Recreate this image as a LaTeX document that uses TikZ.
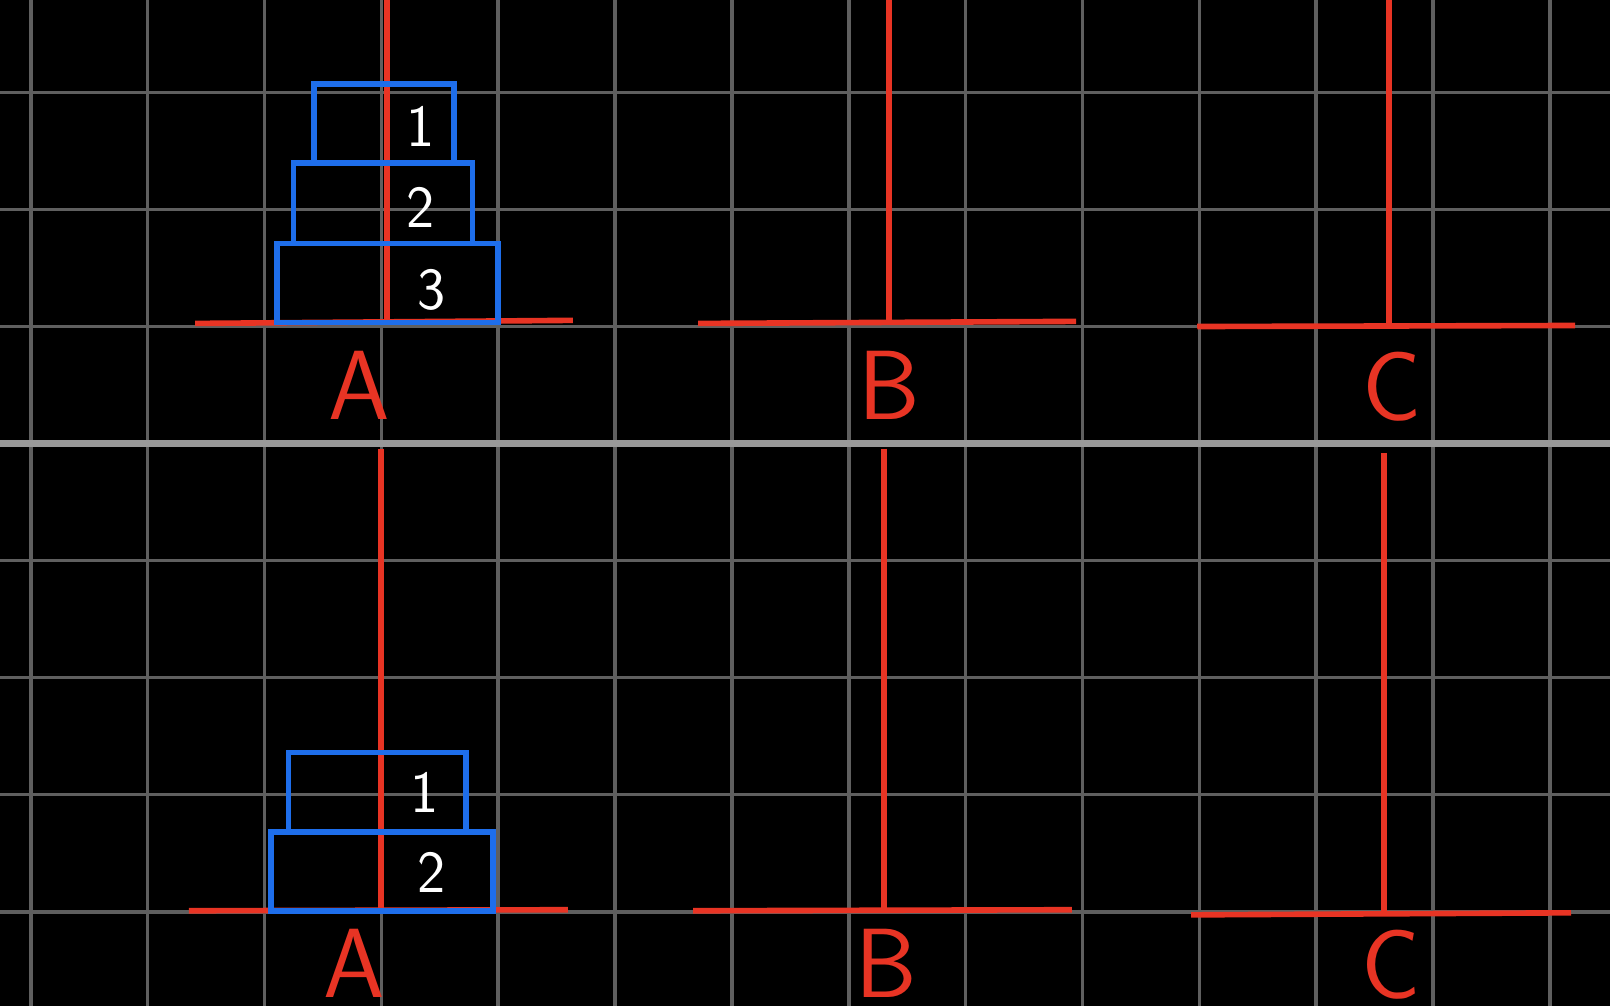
\documentclass[tikz,border=0pt]{standalone}
\usepackage{tikz}
\usetikzlibrary{positioning}
\definecolor{rodred}{RGB}{232, 52, 36}
\definecolor{diskblue}{RGB}{30, 110, 235}
\definecolor{gridgray}{RGB}{95, 95, 95}

\tikzset{
    rod/.style={rodred, line width=1.6pt},
    disk/.style={draw=diskblue, line width=1.6pt},
    disknum/.style={white, font=\sffamily\fontsize{17}{17}\selectfont},
    pegname/.style={rodred, font=\sffamily\fontsize{28}{28}\selectfont}
}

\begin{document}
\begin{tikzpicture}[x=0.010268cm, y=-0.010268cm]
    % Background and grid
    \fill[black] (0,0) rectangle (1568,980);
    \useasboundingbox (0,0) rectangle (1568,980);
    \foreach \gx in {30,143.8,...,1560}
        \draw[gridgray, line width=1pt] (\gx,0) -- (\gx,980);
    \foreach \gy in {90,204,318,546,660,774,888}
        \draw[gridgray, line width=1pt] (0,\gy) -- (1568,\gy);
    \draw[gray!80, line width=2pt] (0,432) -- (1568,432);

    % Top row: rods and bases
    \coordinate (topA) at (377,0);   \coordinate (footA) at (377,315);
    \coordinate (topB) at (866,0);   \coordinate (footB) at (866,314);
    \coordinate (topC) at (1353,0);  \coordinate (footC) at (1353,317);
    \draw[rod] (topA) -- (footA);
    \draw[rod] (topB) -- (footB);
    \draw[rod] (topC) -- (footC);
    \draw[rod] (190,315) -- (558,312);
    \draw[rod] (680,315) -- (1048,313);
    \draw[rod] (1166,318) -- (1534,317);

    % Top row: disks
    \draw[disk] (306,82) rectangle (442,159);
    \draw[disk] (286,159) rectangle (460,237);
    \draw[disk] (270,237) rectangle (485,314);
    \node[disknum] (n1) at (410,123) {1};
    \node[disknum] (n2) at (410,202) {2};
    \node[disknum] (n3) at (420,282) {3};

    % Top row: labels
    \node[pegname] (labA) at (350,375) {A};
    \node[pegname] (labB) at (866,375) {B};
    \node[pegname] (labC) at (1356,377) {C};

    % Bottom row: rods and bases
    \coordinate (topA2) at (371,437);  \coordinate (footA2) at (371,887);
    \coordinate (topB2) at (861,437);  \coordinate (footB2) at (861,886);
    \coordinate (topC2) at (1348,441); \coordinate (footC2) at (1348,889);
    \draw[rod] (topA2) -- (footA2);
    \draw[rod] (topB2) -- (footB2);
    \draw[rod] (topC2) -- (footC2);
    \draw[rod] (184,887) -- (553,886);
    \draw[rod] (675,887) -- (1044,886);
    \draw[rod] (1160,891) -- (1530,889);

    % Bottom row: disks
    \draw[disk] (281,733) rectangle (454,810);
    \draw[disk] (264,810) rectangle (480,887);
    \node[disknum] (m1) at (413,772) {1};
    \node[disknum] (m2) at (420,850) {2};

    % Bottom row: labels
    \node[pegname] (labA2) at (345,938) {A};
    \node[pegname] (labB2) at (863,938) {B};
    \node[pegname] (labC2) at (1355,940) {C};
\end{tikzpicture}
\end{document}
